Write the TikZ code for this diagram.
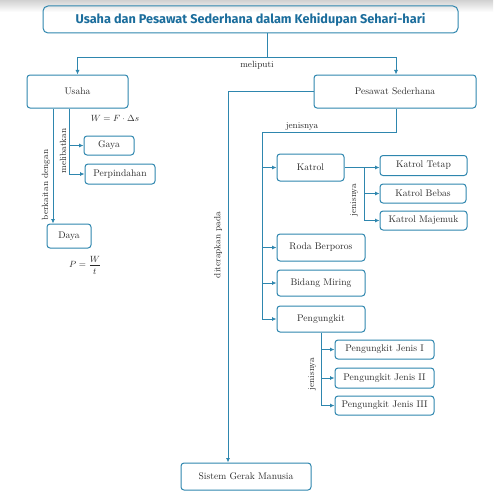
\documentclass[tikz,border=0pt]{standalone}
\usepackage{fontspec}
\newfontfamily\titlefont{Fira Sans}
\usetikzlibrary{arrows.meta}
\definecolor{boxblue}{HTML}{2E86AE}
\definecolor{titleblue}{HTML}{1B6D9C}
\definecolor{txt}{HTML}{2A2A2A}
\begin{document}
\begin{tikzpicture}[x=1pt,y=-1pt,
  box/.style={draw=boxblue,line width=1pt,rounded corners=3pt,inner sep=0pt,
     text=txt,font=\fontsize{9.6}{11}\selectfont},
  conn/.style={draw=boxblue,line width=0.8pt},
  arr/.style={conn,-{Latex[length=4.5pt,width=4pt]}},
  lbl/.style={text=txt,font=\fontsize{9}{10}\selectfont,inner sep=0pt},
  rlbl/.style={lbl,rotate=90}]
\useasboundingbox (0,0) rectangle (493,495);
\shade[top color=black!18,bottom color=white] (0,0) rectangle (493,12);
% boxes
\node[box,minimum width=415pt,minimum height=27pt,rounded corners=5pt,
  text=titleblue,font=\titlefont\bfseries\fontsize{12.7}{14}\selectfont] (title) at (250.5,19.5) {Usaha dan Pesawat Sederhana dalam Kehidupan Sehari-hari};
\node[box,minimum width=101pt,minimum height=33pt] (usaha) at (77.5,91.5) {Usaha};
\node[box,minimum width=162pt,minimum height=33pt] (pesawat) at (395,91.5) {Pesawat Sederhana};
\node[box,minimum width=50pt,minimum height=19pt] (gaya) at (109,145.5) {Gaya};
\node[box,minimum width=70pt,minimum height=20pt] (perp) at (120,174) {Perpindahan};
\node[box,minimum width=44pt,minimum height=24pt] (daya) at (69,236) {Daya};
\node[box,minimum width=67pt,minimum height=27pt] (katrol) at (310.5,167.5) {Katrol};
\node[box,minimum width=87pt,minimum height=20pt] (tetap) at (423.5,165.5) {Katrol Tetap};
\node[box,minimum width=86pt,minimum height=19pt] (bebas) at (423,193.5) {Katrol Bebas};
\node[box,minimum width=87pt,minimum height=19pt] (majemuk) at (423.5,220.5) {Katrol Majemuk};
\node[box,minimum width=88pt,minimum height=27pt] (roda) at (321,247.5) {Roda Berporos};
\node[box,minimum width=88pt,minimum height=26pt] (bidang) at (321,283) {Bidang Miring};
\node[box,minimum width=88pt,minimum height=26pt] (pengungkit) at (321,319) {Pengungkit};
\node[box,minimum width=99pt,minimum height=19pt] (pj1) at (384.5,349.5) {Pengungkit Jenis I};
\node[box,minimum width=99pt,minimum height=20pt] (pj2) at (384.5,378) {Pengungkit Jenis II};
\node[box,minimum width=99pt,minimum height=19pt] (pj3) at (384.5,405.5) {Pengungkit Jenis III};
\node[box,minimum width=130pt,minimum height=27pt] (sistem) at (246,476.5) {Sistem Gerak Manusia};
% helper coordinates
\coordinate (j1) at (267,57);
\coordinate (xd) at (228,0);
\coordinate (xp) at (396,0);
\coordinate (j2) at (262,132);
\coordinate (xk) at (364,0);
\coordinate (xb) at (53,0);
\coordinate (xm) at (69,0);
\coordinate (ym) at (0,175);
\coordinate (xg) at (321,0);
% connectors
\draw[conn] (title.south -| j1) -- (j1);
\draw[arr] (j1) -| (usaha.north);
\draw[arr] (j1) -| (pesawat.north -| xp);
\node[lbl] (meliputi) at (257,65) {meliputi};
\draw[arr] (pesawat.west) -- (pesawat.west -| xd) -- (sistem.north -| xd);
\node[rlbl] (diterapkan) at (218,245) {diterapkan pada};
\draw[conn] (pesawat.south -| xp) |- (j2);
\node[lbl] (jen1) at (302,126) {jenisnya};
\draw[arr] (j2) |- (pengungkit.west);
\draw[arr] (katrol.west -| j2) -- (katrol.west);
\draw[arr] (roda.west -| j2) -- (roda.west);
\draw[arr] (bidang.west -| j2) -- (bidang.west);
\draw[arr] (katrol.east) -- (katrol.east -| tetap.west);
\draw[arr] (katrol.east -| xk) |- (majemuk.west);
\draw[arr] (bebas.west -| xk) -- (bebas.west);
\node[rlbl] (jen2) at (354,200) {jenisnya};
\draw[arr] (pengungkit.south -| xg) |- (pj3.west);
\draw[arr] (pj1.west -| xg) -- (pj1.west);
\draw[arr] (pj2.west -| xg) -- (pj2.west);
\node[rlbl] (jen3) at (312,374) {jenisnya};
\draw[arr] (usaha.south -| xb) -- (daya.north -| xb);
\node[rlbl] (berk) at (46,185) {berkaitan dengan};
\draw[conn] (usaha.south -| xm) -- (ym -| xm);
\draw[arr] (gaya.west -| xm) -- (gaya.west);
\draw[arr] (perp.west -| xm) -- (perp.west);
\node[rlbl] (melib) at (63,151) {melibatkan};
\node[lbl] (rumusw) at (115,118) {$W = F\cdot\Delta s$};
\node[lbl] (rumusp) at (85,265) {$P = \displaystyle\frac{W}{t}$};
\end{tikzpicture}
\end{document}
